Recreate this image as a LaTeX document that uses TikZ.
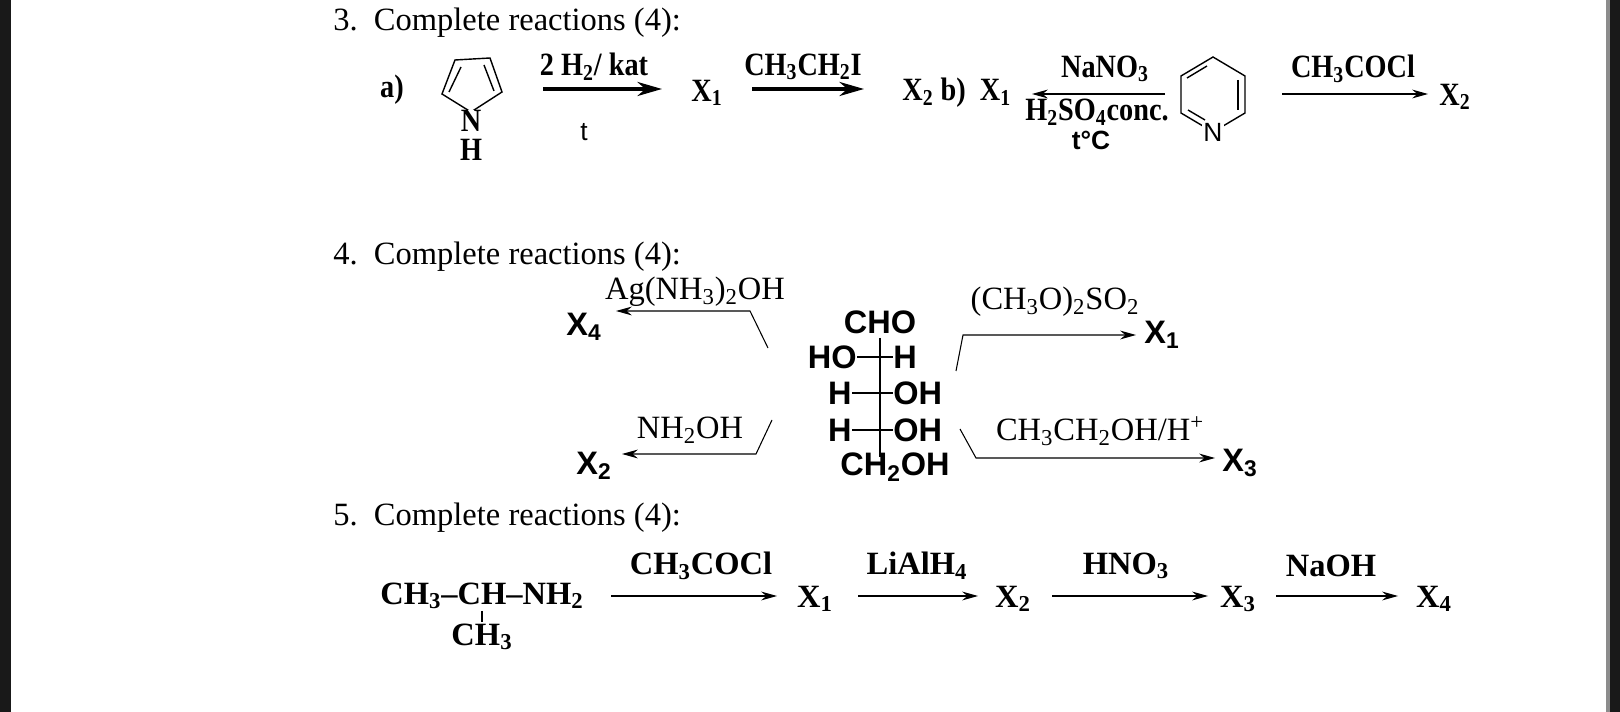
\documentclass[tikz,border=0pt]{standalone}
\usepackage{fontspec}
\setmainfont{Liberation Serif}
\setsansfont{Liberation Sans}
\newfontfamily\condfont[FakeStretch=0.87]{Liberation Serif}
\usetikzlibrary{arrows.meta}
\newcommand{\sub}[1]{\textsubscript{#1}}
\tikzset{
  txt/.style={inner sep=0pt,font=\fontsize{18.5}{22}\selectfont},
  rg/.style={inner sep=0pt,font=\fontsize{18.5}{22}\selectfont\bfseries},
  cd/.style={inner sep=0pt,font=\fontsize{18.5}{22}\selectfont\condfont\bfseries},
  sf/.style={inner sep=0pt,font=\fontsize{18.5}{22}\selectfont\sffamily\bfseries},
  thin arr/.style={-{Stealth[length=9pt,width=5pt]},line width=0.6pt},
  thick arr/.style={-{Stealth[length=14pt,width=8pt]},line width=2pt},
  bond/.style={line width=0.8pt}
}
\begin{document}
\begin{tikzpicture}[x=0.02cm,y=-0.02cm]
\useasboundingbox (0,0) rectangle (1620,712);
\fill[black!90] (0,0) rectangle (11,712);
\fill[black!45] (1606,0) rectangle (1610,712);
\fill[black!90] (1610,0) rectangle (1620,712);

% headers
\node[txt,anchor=west] (h3) at (333,23) {3.\ \ Complete reactions (4):};
\node[txt,anchor=west] (h4) at (333,257) {4.\ \ Complete reactions (4):};
\node[txt,anchor=west] (h5) at (333,518) {5.\ \ Complete reactions (4):};

% row 3 a)
\node[cd] (a) at (392,90) {a)};
\draw[bond] (455,60) -- (490,58) -- (502,92) -- (471,112) -- (442,94) -- cycle;
\draw[bond] (461,67) -- (449,92);
\draw[bond] (484,65) -- (494,91);
\node[cd,fill=white,inner sep=0pt] (pyN) at (471,121) {N};
\node[cd] (pyH) at (471,150) {H};
\coordinate (a1s) at (543,89);
\coordinate (a1e) at (662,89);
\draw[thick arr] (a1s) -- (a1e);
\node[cd] (l1) at (594,67) {2 H\sub{2}/ kat};
\node[txt,font=\fontsize{15}{18}\selectfont\sffamily] (t1) at (584,132) {t};
\node[cd] (x1a) at (707,93) {X\sub{1}};
\coordinate (a2s) at (752,89);
\coordinate (a2e) at (864,89);
\draw[thick arr] (a2s) -- (a2e);
\node[cd] (l2) at (803,67) {CH\sub{3}CH\sub{2}I};
\node[cd,anchor=west] (x2a) at (902,93) {X\sub{2} b)\ \ X\sub{1}};
\coordinate (b1s) at (1165,94);
\coordinate (b1e) at (1032,94);
\draw[thin arr] (b1s) -- (b1e);
\node[cd] (l3) at (1105,69) {NaNO\sub{3}};
\node[cd] (l4) at (1097,112) {H\sub{2}SO\sub{4}conc.};
\node[sf,font=\fontsize{15}{18}\selectfont\sffamily\bfseries] (l5) at (1091,140) {t°C};
% pyridine
\draw[bond] (1213,57) -- (1245,76) -- (1245,113) -- (1213,132) -- (1181,113) -- (1181,76) -- cycle;
\draw[bond] (1207,66) -- (1187,78);
\draw[bond] (1238,80) -- (1238,110);
\draw[bond] (1188,110) -- (1205,120);
\node[sf,font=\fontsize{15}{18}\selectfont\sffamily,fill=white,inner sep=1pt] (pdN) at (1213,132) {N};
\coordinate (b2s) at (1282,94);
\coordinate (b2e) at (1428,94);
\draw[thin arr] (b2s) -- (b2e);
\node[cd] (l6) at (1353,69) {CH\sub{3}COCl};
\node[cd] (x2b) at (1455,97) {X\sub{2}};

% row 4
\node[sf] (chox) at (880,322) {CHO};
\draw[bond] (880,338) -- (880,457);
\node[sf,anchor=east] (r1l) at (857,357) {HO};
\node[sf,anchor=west] (r1r) at (893,357) {H};
\node[sf,anchor=east] (r2l) at (852,393) {H};
\node[sf,anchor=west] (r2r) at (893,393) {OH};
\node[sf,anchor=east] (r3l) at (852,430) {H};
\node[sf,anchor=west] (r3r) at (893,430) {OH};
\foreach \r in {1,2,3}{
  \draw[bond] (r\r l.east) -- (r\r r.west);
}
\node[sf] (ch2oh) at (895,467) {CH\sub{2}OH};
% upper left
\node[sf] (x4) at (584,327) {X\sub{4}};
\coordinate (ulk) at (768,348);
\coordinate (ulb) at (750,311);
\coordinate (ule) at (616,311);
\draw[thin arr] (ulk) -- (ulb) -- (ule);
\node[txt] (ag) at (695,292) {Ag(NH\sub{3})\sub{2}OH};
% upper right
\node[sf] (x1b) at (1162,335) {X\sub{1}};
\coordinate (urk) at (956,371);
\coordinate (urb) at (963,335);
\coordinate (ure) at (1136,335);
\draw[thin arr] (urk) -- (urb) -- (ure);
\node[txt] (dms) at (1055,302) {(CH\sub{3}O)\sub{2}SO\sub{2}};
% lower left
\node[sf] (x2c) at (594,466) {X\sub{2}};
\coordinate (llk) at (772,420);
\coordinate (llb) at (756,454);
\coordinate (lle) at (622,454);
\draw[thin arr] (llk) -- (llb) -- (lle);
\node[txt] (nh2oh) at (690,430) {NH\sub{2}OH};
% lower right
\node[sf] (x3) at (1240,463) {X\sub{3}};
\coordinate (lrk) at (960,429);
\coordinate (lrb) at (976,458);
\coordinate (lre) at (1215,458);
\draw[thin arr] (lrk) -- (lrb) -- (lre);
\node[txt] (etoh) at (1100,431) {CH\sub{3}CH\sub{2}OH/H\textsuperscript{+}};

% row 5
\node[rg] (amine) at (482,596) {CH\sub{3}–CH–NH\sub{2}};
\node[rg] (me) at (482,637) {CH\sub{3}};
\draw[line width=0.6pt] (482,611) -- (482,622);
\coordinate (c1s) at (611,596);
\coordinate (c1e) at (777,596);
\draw[thin arr] (c1s) -- (c1e);
\node[rg] (m1) at (701,566) {CH\sub{3}COCl};
\node[rg] (y1) at (815,599) {X\sub{1}};
\coordinate (c2s) at (858,596);
\coordinate (c2e) at (978,596);
\draw[thin arr] (c2s) -- (c2e);
\node[rg] (m2) at (917,566) {LiAlH\sub{4}};
\node[rg] (y2) at (1013,599) {X\sub{2}};
\coordinate (c3s) at (1052,596);
\coordinate (c3e) at (1208,596);
\draw[thin arr] (c3s) -- (c3e);
\node[rg] (m3) at (1126,566) {HNO\sub{3}};
\node[rg] (y3) at (1238,599) {X\sub{3}};
\coordinate (c4s) at (1276,596);
\coordinate (c4e) at (1398,596);
\draw[thin arr] (c4s) -- (c4e);
\node[rg] (m4) at (1331,566) {NaOH};
\node[rg] (y4) at (1434,599) {X\sub{4}};
\end{tikzpicture}
\end{document}
